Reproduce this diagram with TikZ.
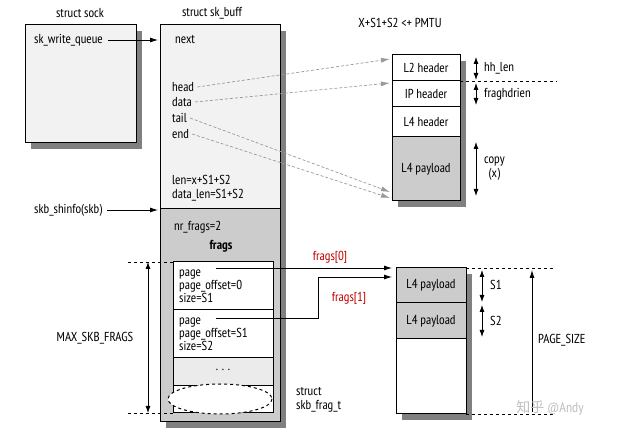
\documentclass[tikz,border=0pt]{standalone}
\usepackage{fontspec}
\setmainfont{PT Sans Narrow}
\newfontfamily\cjk{Noto Sans CJK SC}
\usetikzlibrary{arrows.meta}
\begin{document}
\begin{tikzpicture}[x=1pt,y=-1pt,font=\fontsize{13}{14}\selectfont,
  box/.style={draw,line width=1pt},
  shad/.style={fill=black!50},
  arr/.style={-{Latex[length=8pt,width=5pt]},line width=0.8pt},
  darr/.style={{Latex[length=7pt,width=5pt]}-{Latex[length=7pt,width=5pt]},line width=0.8pt},
  dot/.style={densely dashed,black!40,-{Latex[length=9pt,width=5pt]},line width=0.7pt},
  dsh/.style={dashed,line width=0.7pt},
  lbl/.style={inner sep=0pt,anchor=west},
  red/.style={text=red!75!black}]
\useasboundingbox (0,0) rectangle (619,435);
% struct sock
\node at (80,13) (tsock) {struct sock};
\fill[shad] (31,31) rectangle (142,149);
\draw[box,fill=black!5] (25,25) rectangle (136,143);
\node[lbl] (swq) at (34,40) {sk\_write\_queue};
% sk_buff
\node at (212,13) (tskb) {struct sk\_buff};
\fill[shad] (166,31) rectangle (286,428);
\draw[box,fill=black!5] (160,25) rectangle (280,209);
\draw[box,fill=black!20] (160,209) rectangle (280,422);
\node[lbl] (next) at (175,40) {next};
\node[lbl] (head) at (172,87) {head};
\node[lbl] (data) at (172,102) {data};
\node[lbl] (tail) at (172,118) {tail};
\node[lbl] (end) at (172,134) {end};
\node[lbl] (len) at (172,180) {len=x+S1+S2};
\node[lbl] (dlen) at (172,195) {data\_len=S1+S2};
\node[lbl] (nrf) at (174,227) {nr\_frags=2};
\node (frags) at (221,246) {\bfseries frags};
\draw[box,fill=white] (173,262) rectangle (273,358);
\draw[line width=1pt] (173,310) -- (273,310);
\draw[box,fill=black!8] (173,358) rectangle (273,386);
\draw[box,fill=white] (173,386) rectangle (273,413);
\node at (223,370) {. . .};
\draw[dashed,line width=1pt,fill=white] (220,399) ellipse (52 and 15);
\node[lbl,align=left,font=\fontsize{13}{13}\selectfont] (p1) at (179,286) {page\\page\_offset=0\\size=S1};
\node[lbl,align=left,font=\fontsize{13}{13}\selectfont] (p2) at (179,334) {page\\page\_offset=S1\\size=S2};
\node[lbl,align=left,font=\fontsize{13}{14}\selectfont] (sft) at (296,400) {struct\\skb\_frag\_t};
\node[lbl] (shi) at (34,210) {skb\_shinfo(skb)};
\draw[arr] (shi.east)++(5,0) -- (158,210);
\draw[arr] (swq.east)++(5,0) -- (158,40);
% MAX_SKB_FRAGS
\coordinate (mt) at (148,262); \coordinate (mb) at (148,413);
\draw[dsh] (128,262) -- (173,262);
\draw[dsh] (128,413) -- (173,413);
\draw[darr] (mt) -- (mb);
\node (msf) at (95,338) {MAX\_SKB\_FRAGS};
% header box
\node at (400,23) (pmtu) {X+S1+S2 <+ PMTU};
\fill[shad] (398,61) rectangle (466,207);
\draw[box,fill=white] (392,55) rectangle (460,137);
\draw[box,fill=black!20] (392,137) rectangle (460,201);
\draw[line width=1pt] (392,81) -- (460,81) (392,107) -- (460,107);
\node (l2) at (426,68) {L2 header};
\node (ip) at (426,94) {IP header};
\node (l4) at (426,122) {L4 header};
\node (l4p) at (426,169) {L4 payload};
\draw[dsh] (460,81) -- (557,81);
\draw[darr] (476,57) -- (476,80);
\draw[darr] (476,83) -- (476,105);
\draw[darr] (476,142) -- (476,196);
\node[lbl] (hh) at (484,68) {hh\_len};
\node[lbl] (fh) at (484,94) {fraghdrien};
\node[lbl,align=center] (cp) at (484,169) {copy\\(x)};
\coordinate (a1) at (390,59); \coordinate (a2) at (390,83);
\coordinate (a3) at (390,192); \coordinate (a4) at (390,198);
\draw[dot] (head.east)++(3,0) -- (a1);
\draw[dot] (data.east)++(3,0) -- (a2);
\draw[dot] (tail.east)++(3,0) -- (a3);
\draw[dot] (end.east)++(3,0) -- (a4);
% page box
\fill[shad] (402,274) rectangle (472,420);
\draw[box,fill=white] (396,268) rectangle (466,414);
\draw[box,fill=black!20] (396,268) rectangle (466,339);
\draw[line width=1pt] (396,303) -- (466,303);
\node (pl1) at (431,285) {L4 payload};
\node (pl2) at (431,321) {L4 payload};
\draw[darr] (482,270) -- (482,302);
\draw[darr] (482,305) -- (482,337);
\node[lbl] (s1) at (490,285) {S1};
\node[lbl] (s2) at (490,321) {S2};
\draw[dsh] (466,268) -- (554,268);
\draw[dsh] (466,414) -- (554,414);
\draw[arr] (532,412) -- (532,270);
\node[lbl] (ps) at (538,340) {PAGE\_SIZE};
\coordinate (f0) at (392,268); \coordinate (f1) at (392,277);
\draw[arr] (216,268) -- (f0);
\draw[arr] (216,318) -- (318,318) -- (318,277) -- (f1);
\node[red] at (330,257) {frags[0]};
\node[red] at (349,298) {frags[1]};
\node[text=black!25,font=\fontsize{14}{14}\selectfont] at (550,408) {{\cjk 知乎} @Andy};
\end{tikzpicture}
\end{document}
